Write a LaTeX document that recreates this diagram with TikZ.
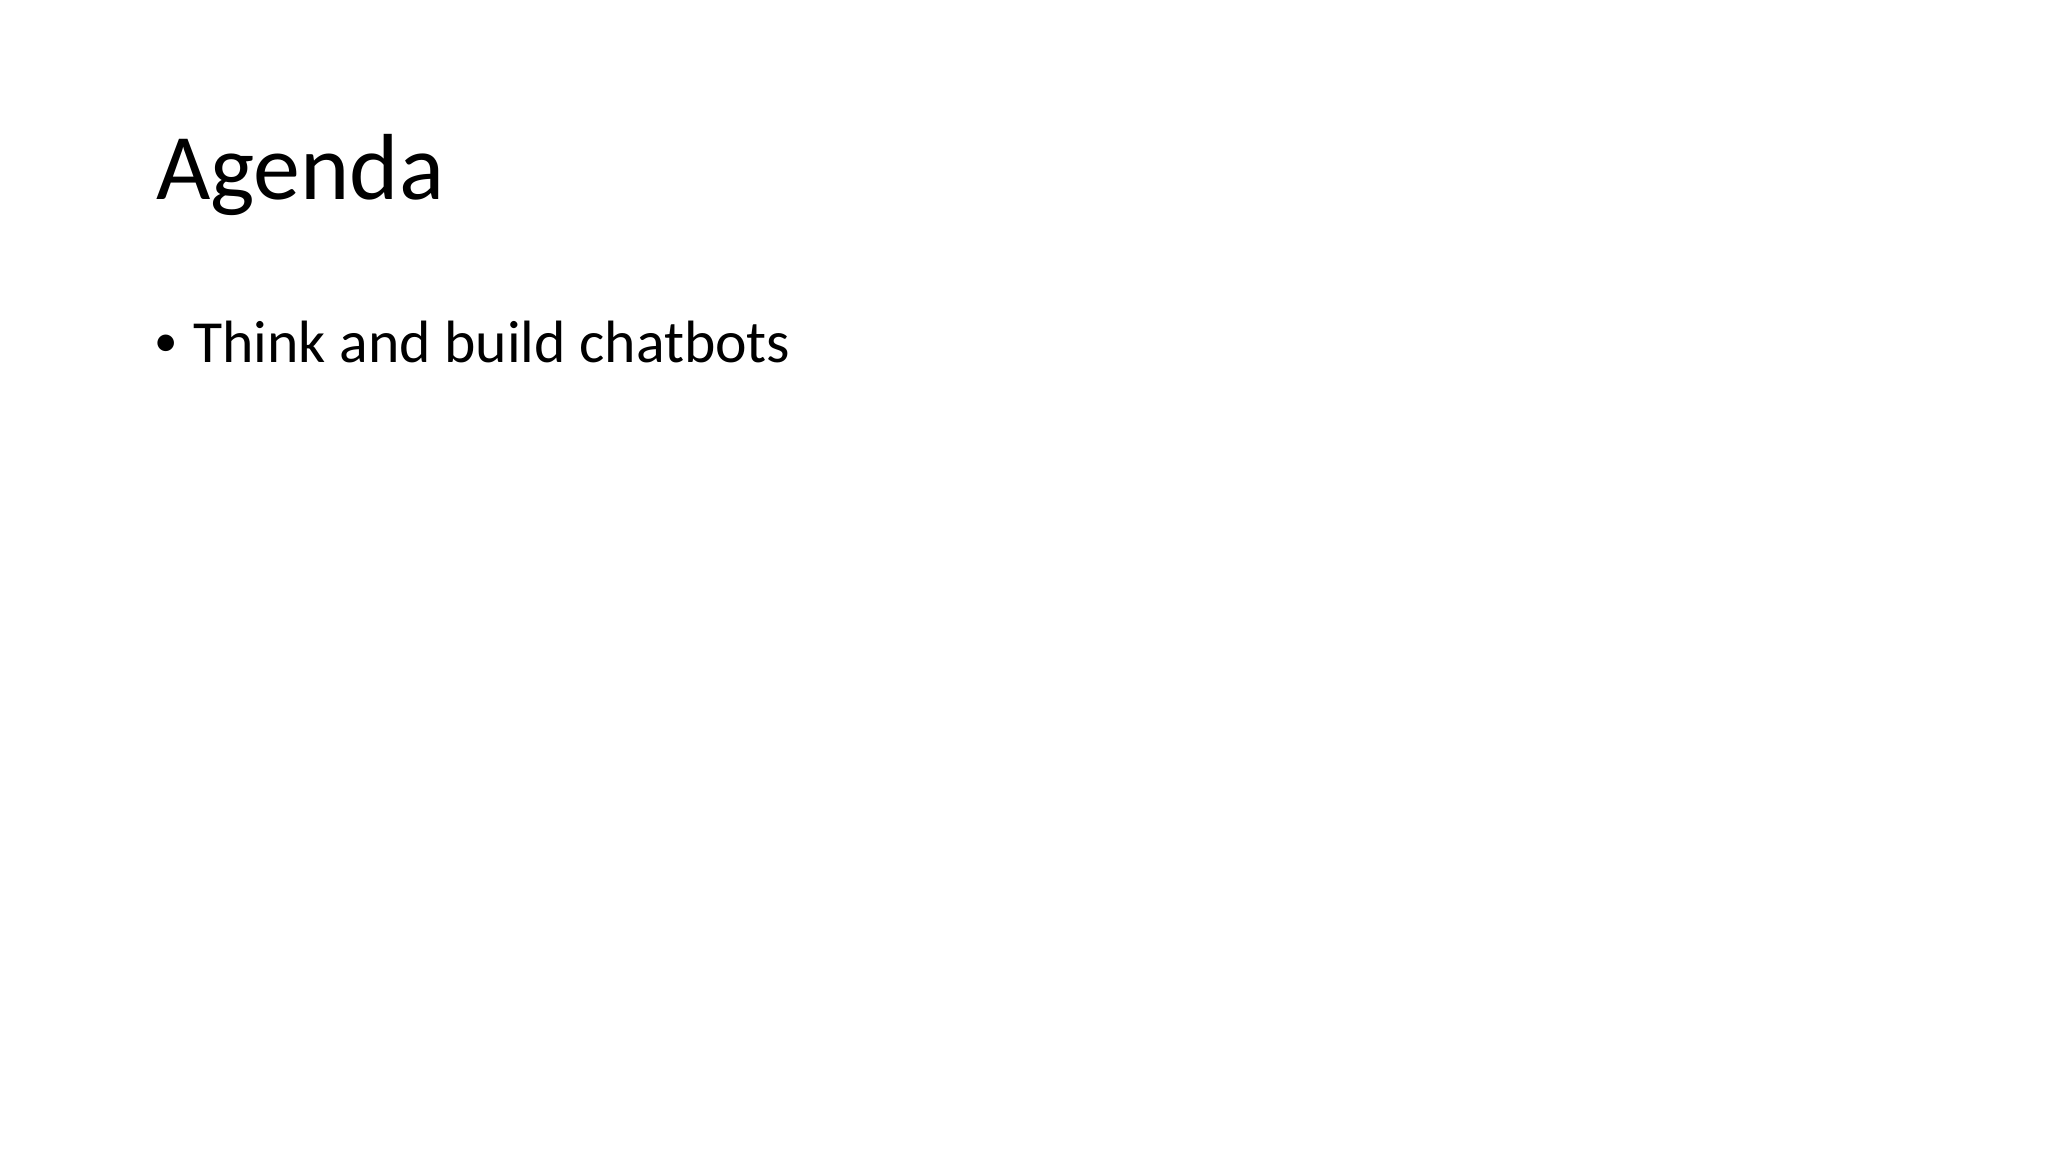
\documentclass[tikz,border=0pt]{standalone}
\usepackage{fontspec}
\setmainfont{Carlito}
\tikzset{
  slidetext/.style={anchor=base west,inner sep=0pt,text=black},
  titletext/.style={slidetext,font=\fontsize{44}{53}\selectfont},
  bullettext/.style={slidetext,font=\fontsize{28}{34}\selectfont},
  bulletmark/.style={inner sep=0pt,text=black,font=\fontsize{22}{26}\selectfont}
}
\begin{document}
\begin{tikzpicture}[x=1pt,y=1pt]
        %% Page
        \fill[white] (0,0) rectangle (960,-540);
        \useasboundingbox (0,0) rectangle (960,-540);
        %% Title
        \node[titletext] (title) at (73,-93.3) {Agenda};
        %% Bullet list
        \node[bullettext] (item) at (90.5,-169.7) {Think and build chatbots};
        \node[bulletmark] (dot) at (78,-162) {\textbullet};
    \end{tikzpicture}
\end{document}
